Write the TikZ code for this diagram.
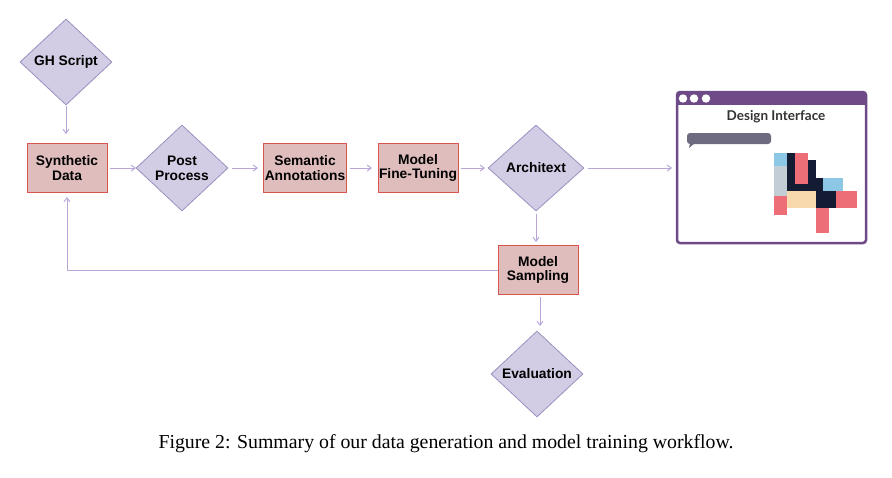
\documentclass[tikz,border=0pt]{standalone}
\usepackage{fontspec}
\setmainfont{Liberation Serif}
\newfontfamily\arial{Liberation Sans}
\newfontfamily\lato{Lato}
\usetikzlibrary{shapes.geometric,arrows.meta}
\definecolor{boxfill}{HTML}{E0BDBD}
\definecolor{boxline}{HTML}{D9534F}
\definecolor{diafill}{HTML}{D2CDE4}
\definecolor{dialine}{HTML}{9A90C0}
\definecolor{arr}{HTML}{B9A6D8}
\definecolor{winc}{HTML}{6E4A86}
\definecolor{bubble}{HTML}{6E6A80}
\definecolor{lblue}{HTML}{8CC8E6}
\definecolor{lgray}{HTML}{C3CDD6}
\definecolor{pink}{HTML}{EE6E78}
\definecolor{navy}{HTML}{141C33}
\definecolor{peach}{HTML}{F8D9AE}
\begin{document}
\begin{tikzpicture}[x=1pt,y=-1pt,
  stepbox/.style={draw=boxline,fill=boxfill,line width=0.8pt,minimum width=80pt,minimum height=49pt,font=\arial\bfseries\fontsize{13.8}{14.8}\selectfont,align=center,inner sep=1pt},
  dia/.style={diamond,draw=dialine,fill=diafill,line width=0.8pt,minimum width=92pt,minimum height=86pt,inner sep=0pt,font=\arial\bfseries\fontsize{13.8}{14.8}\selectfont,align=center},
  conn/.style={draw=arr,line width=1pt,-{Straight Barb[length=4pt,width=6pt]}}]
\useasboundingbox (0,0) rectangle (892,477);
\node[dia] (gh) at (66,62) {GH Script};
\node[stepbox] (sd) at (67,168) {Synthetic\\Data};
\node[dia] (pp) at (182,168) {Post\\Process};
\node[stepbox] (sa) at (305,168) {Semantic\\Annotations};
\node[stepbox] (mf) at (418,168) {Model\\Fine-Tuning};
\node[dia,minimum width=96pt] (ax) at (536,168) {Architext};
\node[stepbox] (ms) at (538,270) {Model\\Sampling};
\node[dia] (ev) at (537,374) {Evaluation};
% window
\draw[winc,line width=2.5pt,rounded corners=3pt,fill=white] (677,92) rectangle (866,243);
\fill[winc,rounded corners=3pt] (677,92) rectangle (866,104.5);
\fill[winc] (677,100) rectangle (866,104.5);
\foreach \cx/\nm in {683/c1,694/c2,706/c3} \fill[white] (\cx,98.5) circle (4.2pt);
\node[font=\lato\bfseries\fontsize{13.5}{14}\selectfont,text=black!80] (di) at (776,117) {Design Interface};
\fill[bubble,rounded corners=3pt] (687,133) rectangle (771,144);
\fill[bubble] (690,143) -- (695,143) -- (689,148) -- cycle;
\fill[navy] (787,153) rectangle (808,191);
\fill[navy] (808,160) rectangle (816,191);
\fill[navy] (808,178) rectangle (823,191);
\fill[navy] (816,191) rectangle (836,208);
\fill[lblue] (774,153) rectangle (787,166);
\fill[lgray] (774,166) rectangle (787,196);
\fill[pink] (774,196) rectangle (787,215);
\fill[pink] (795,153) rectangle (808,184);
\fill[lblue] (823,178) rectangle (843,191);
\fill[peach] (787,191) rectangle (816,208);
\fill[pink] (836,191) rectangle (857,208);
\fill[pink] (816,208) rectangle (829,233);
\coordinate (win) at (672,168);
\coordinate (fb) at (67,197);
% connectors
\draw[conn] (66,106) -- (66,134);
\draw[conn] (sd.east) ++(3,0) -- (136,168);
\draw[conn] (pp.east) ++(4,0) -- (258,168);
\draw[conn] (sa.east) ++(3,0) -- (372,168);
\draw[conn] (mf.east) ++(3,0) -- (485,168);
\draw[conn] (ax.east) ++(4,0) -- (win);
\draw[conn] (536,214) -- (536,242);
\draw[conn] (ms.west) -| (fb);
\draw[conn] (540,297) -- (540,326);
\node[font=\fontsize{19.8}{21}\selectfont] (cap) at (446,444) {Figure 2: Summary of our data generation and model training workflow.};
\end{tikzpicture}
\end{document}
